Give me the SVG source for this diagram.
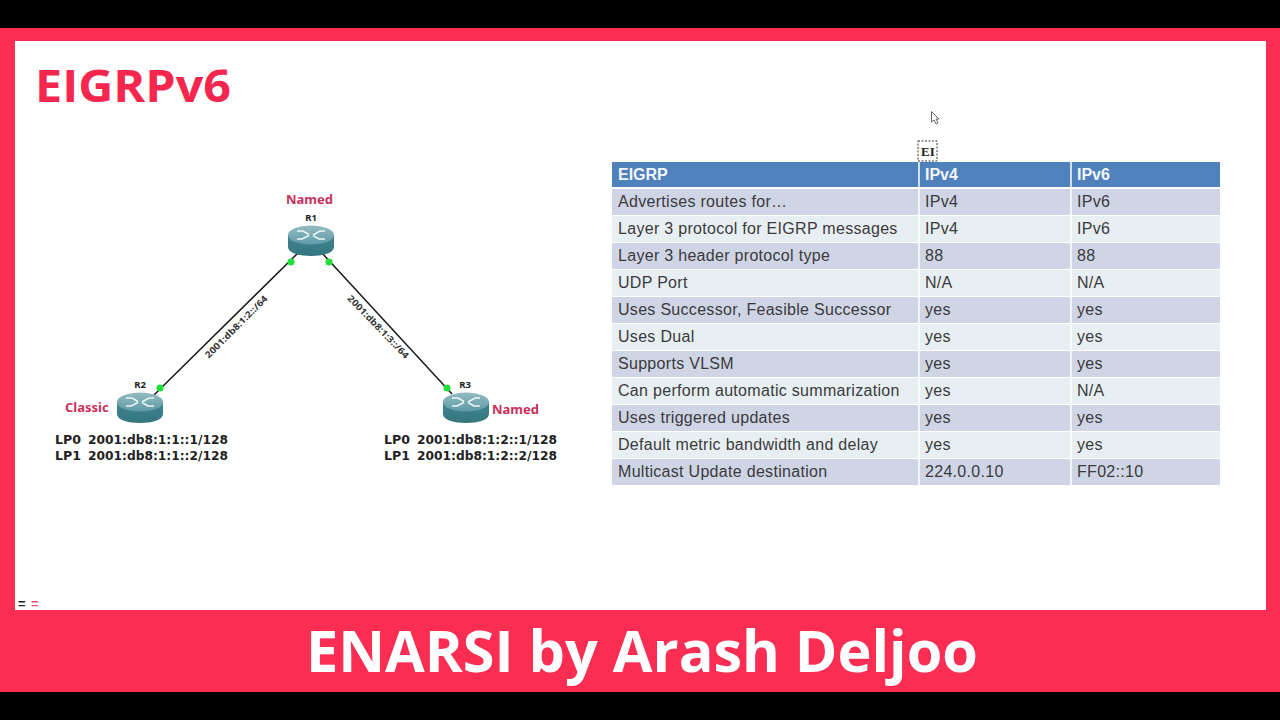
<svg xmlns="http://www.w3.org/2000/svg" width="1280" height="720" viewBox="0 0 1280 720">
<style>
.t{font-family:"Liberation Sans",Arial,sans-serif;font-size:16px;letter-spacing:.3px;fill:#3a3a3c}
.h{font-family:"Liberation Sans",Arial,sans-serif;font-size:16px;font-weight:bold;fill:#f2f6fb}
.r{font-family:"Noto Sans",sans-serif;font-weight:bold;font-size:13px;fill:#c9305c}
.n{font-family:"Noto Sans",sans-serif;font-weight:bold;font-size:9.500px;fill:#222;text-anchor:middle}
.l{font-family:"Noto Sans",sans-serif;font-weight:bold;font-size:9px;fill:#333;text-anchor:middle}
.lp{font-family:"DejaVu Sans",sans-serif;font-weight:bold;font-size:13px;fill:#222}
.a{fill:#d0d5e6}.b{fill:#e8eff2}
.lnk{stroke:#1a1a1a;stroke-width:1.500;fill:none}
.dot{fill:#22e03c}
</style>
<defs>
<linearGradient id="rg" x1="0" y1="0" x2="0" y2="1"><stop offset="0" stop-color="#3f8590"/><stop offset="1" stop-color="#35767f"/></linearGradient>
<linearGradient id="rt" x1="0" y1="0" x2="0" y2="1"><stop offset="0" stop-color="#93bcc3"/><stop offset="1" stop-color="#5f9aa5"/></linearGradient>
<g id="router">
<path d="M-23-6V6C-23 12-12 15 0 15S23 12 23 6V-6Z" fill="url(#rg)"/>
<ellipse cx="0" cy="-6" rx="23" ry="9.500" fill="url(#rt)"/>
<path d="M-14-10H-8L-2-6.500M14-10H9L2-6M-14-2H-9L-2-5.500M14-2H8L2-5.500" stroke="#eef6f7" stroke-width="1.500" fill="none"/>
</g>
</defs>
<rect width="1280" height="720" fill="#000"/>
<rect x="0" y="28" width="1280" height="664" fill="#fb2d52"/>
<rect x="15" y="41" width="1251" height="569" fill="#fff"/>
<text x="35" y="102" font-family="Open Sans,sans-serif" font-weight="bold" font-size="45" fill="#f5274f" textLength="196" lengthAdjust="spacingAndGlyphs">EIGRPv6</text>
<g id="connectors">
<path class="lnk" d="M298 253L154 395M322 253L452 394"/>
<circle class="dot" cx="291" cy="262" r="3.500"/><circle class="dot" cx="329" cy="262" r="3.500"/>
<circle class="dot" cx="160" cy="388" r="3.500"/><circle class="dot" cx="447" cy="388" r="3.500"/>
<text class="l" transform="translate(238.500 329) rotate(-45)" textLength="84" lengthAdjust="spacingAndGlyphs">2001:db8:1:2::/64</text>
<text class="l" transform="translate(376 329) rotate(46)" textLength="84" lengthAdjust="spacingAndGlyphs">2001:db8:1:3::/64</text>
</g>
<g id="R1"><use href="#router" x="311" y="241"/><text class="n" x="311" y="221">R1</text><text class="r" x="286" y="204">Named</text></g>
<g id="R2"><use href="#router" x="140" y="408"/><text class="n" x="140" y="388">R2</text><text class="r" x="65" y="412">Classic</text>
<text class="lp" x="55" y="444" textLength="26" lengthAdjust="spacingAndGlyphs">LP0</text><text class="lp" x="88" y="444" textLength="140" lengthAdjust="spacingAndGlyphs">2001:db8:1:1::1/128</text>
<text class="lp" x="55" y="460" textLength="26" lengthAdjust="spacingAndGlyphs">LP1</text><text class="lp" x="88" y="460" textLength="140" lengthAdjust="spacingAndGlyphs">2001:db8:1:1::2/128</text></g>
<g id="R3"><use href="#router" x="466" y="408"/><text class="n" x="465" y="388">R3</text><text class="r" x="492" y="414">Named</text>
<text class="lp" x="384" y="444" textLength="26" lengthAdjust="spacingAndGlyphs">LP0</text><text class="lp" x="417" y="444" textLength="140" lengthAdjust="spacingAndGlyphs">2001:db8:1:2::1/128</text>
<text class="lp" x="384" y="460" textLength="26" lengthAdjust="spacingAndGlyphs">LP1</text><text class="lp" x="417" y="460" textLength="140" lengthAdjust="spacingAndGlyphs">2001:db8:1:2::2/128</text></g>
<g id="cursor"><path d="M931.500 111.500V122L934 120 936 124 938 123 936 119 939 119Z" fill="#fff" stroke="#666" stroke-width="1"/></g>
<g id="editbox"><rect x="918" y="141" width="19" height="20" fill="#fff" stroke="#333" stroke-dasharray="2 1.500"/><text x="921" y="156" font-family="Liberation Serif,serif" font-weight="bold" font-size="13" fill="#222">EI</text></g>
<g id="table">
<rect x="612" y="162" width="608" height="25" fill="#4f81bd"/>
<rect class="a" x="612" y="189" width="608" height="26"/>
<rect class="b" x="612" y="216" width="608" height="26"/>
<rect class="a" x="612" y="243" width="608" height="26"/>
<rect class="b" x="612" y="270" width="608" height="26"/>
<rect class="a" x="612" y="297" width="608" height="26"/>
<rect class="b" x="612" y="324" width="608" height="26"/>
<rect class="a" x="612" y="351" width="608" height="26"/>
<rect class="b" x="612" y="378" width="608" height="26"/>
<rect class="a" x="612" y="405" width="608" height="26"/>
<rect class="b" x="612" y="432" width="608" height="26"/>
<rect class="a" x="612" y="459" width="608" height="26"/>
<path d="M919 162V485M1071 162V485" stroke="#fff" stroke-width="1.500"/>
<text class="h" x="618" y="180">EIGRP</text><text class="h" x="925" y="180">IPv4</text><text class="h" x="1077" y="180">IPv6</text>
<text class="t" x="618" y="207">Advertises routes for…</text><text class="t" x="925" y="207">IPv4</text><text class="t" x="1077" y="207">IPv6</text>
<text class="t" x="618" y="234">Layer 3 protocol for EIGRP messages</text><text class="t" x="925" y="234">IPv4</text><text class="t" x="1077" y="234">IPv6</text>
<text class="t" x="618" y="261">Layer 3 header protocol type</text><text class="t" x="925" y="261">88</text><text class="t" x="1077" y="261">88</text>
<text class="t" x="618" y="288">UDP Port</text><text class="t" x="925" y="288">N/A</text><text class="t" x="1077" y="288">N/A</text>
<text class="t" x="618" y="315">Uses Successor, Feasible Successor</text><text class="t" x="925" y="315">yes</text><text class="t" x="1077" y="315">yes</text>
<text class="t" x="618" y="342">Uses Dual</text><text class="t" x="925" y="342">yes</text><text class="t" x="1077" y="342">yes</text>
<text class="t" x="618" y="369">Supports VLSM</text><text class="t" x="925" y="369">yes</text><text class="t" x="1077" y="369">yes</text>
<text class="t" x="618" y="396">Can perform automatic summarization</text><text class="t" x="925" y="396">yes</text><text class="t" x="1077" y="396">N/A</text>
<text class="t" x="618" y="423">Uses triggered updates</text><text class="t" x="925" y="423">yes</text><text class="t" x="1077" y="423">yes</text>
<text class="t" x="618" y="450">Default metric bandwidth and delay</text><text class="t" x="925" y="450">yes</text><text class="t" x="1077" y="450">yes</text>
<text class="t" x="618" y="477">Multicast Update destination</text><text class="t" x="925" y="477">224.0.0.10</text><text class="t" x="1077" y="477">FF02::10</text>
</g>
<text x="18" y="608" font-family="Liberation Sans,sans-serif" font-weight="bold" font-size="13" fill="#222">=</text>
<text x="31" y="608" font-family="Liberation Sans,sans-serif" font-weight="bold" font-size="13" fill="#e8506e">=</text>
<text x="306" y="672" font-family="Open Sans,sans-serif" font-weight="bold" font-size="57" fill="#fff" textLength="672" lengthAdjust="spacingAndGlyphs">ENARSI by Arash Deljoo</text>
</svg>
